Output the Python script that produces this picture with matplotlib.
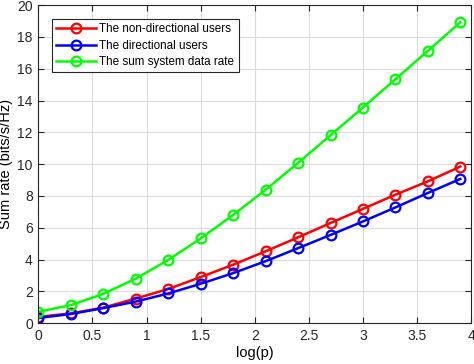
import matplotlib
matplotlib.use('Agg')
import matplotlib.pyplot as plt
import numpy as np

# log(p) values
logp = [0, 0.3, 0.6, 0.9, 1.2, 1.5, 1.8, 2.1, 2.4, 2.7, 3.0, 3.3, 3.6, 3.9]

# sum rates (bits/s/Hz)
non_directional = [0.40, 0.62, 0.98, 1.55, 2.15, 2.90, 3.68, 4.52, 5.40, 6.30, 7.19, 8.08, 8.92, 9.85]
directional = [0.33, 0.58, 0.95, 1.36, 1.87, 2.48, 3.15, 3.90, 4.72, 5.55, 6.40, 7.28, 8.19, 9.07]
sum_rate = [0.72, 1.14, 1.85, 2.80, 3.98, 5.33, 6.81, 8.39, 10.08, 11.82, 13.56, 15.34, 17.12, 18.92]

labels = ['The non-directional users', 'The directional users', 'The sum system data rate']
colors = ['#ff0000', '#0000ff', '#00ff00']

plt.rcParams['font.family'] = ['Liberation Sans', 'DejaVu Sans']

fig = plt.figure(figsize=(4.74, 3.64), dpi=100)
ax = fig.add_axes([0.081, 0.112, 0.913, 0.874])

for y, lab, c in zip([non_directional, directional, sum_rate], labels, colors):
    ax.plot(logp, y, '-o', color=c, lw=1.8, ms=7, mfc='none', mew=1.6, label=lab)

ax.set_xlim(0, 4)
ax.set_ylim(0, 20)
ax.set_xticks(np.arange(0, 4.01, 0.5))
ax.set_xticklabels(['0', '0.5', '1', '1.5', '2', '2.5', '3', '3.5', '4'])
ax.set_yticks(np.arange(0, 21, 2))
ax.tick_params(direction='in', labelsize=10, length=4, width=0.8,
               top=True, right=True, pad=4, colors='#262626')
ax.grid(True, color='#dcdcdc', lw=0.8)
ax.set_axisbelow(True)
for s in ax.spines.values():
    s.set_color('#262626')
    s.set_linewidth(0.8)

ax.set_xlabel('log(p)', fontsize=10.5, labelpad=2)
ax.set_ylabel('Sum rate (bits/s/Hz)', fontsize=10.5, labelpad=3)

leg = ax.legend(loc='upper left', bbox_to_anchor=(0.032, 0.955), fontsize=8.4,
                handlelength=3.4, handletextpad=0.3, labelspacing=0.38,
                borderpad=0.35, borderaxespad=0, fancybox=False, framealpha=1)
leg.get_frame().set_edgecolor('#262626')
leg.get_frame().set_linewidth(0.8)

fig.savefig('out.png', dpi=100)
plt.close(fig)
